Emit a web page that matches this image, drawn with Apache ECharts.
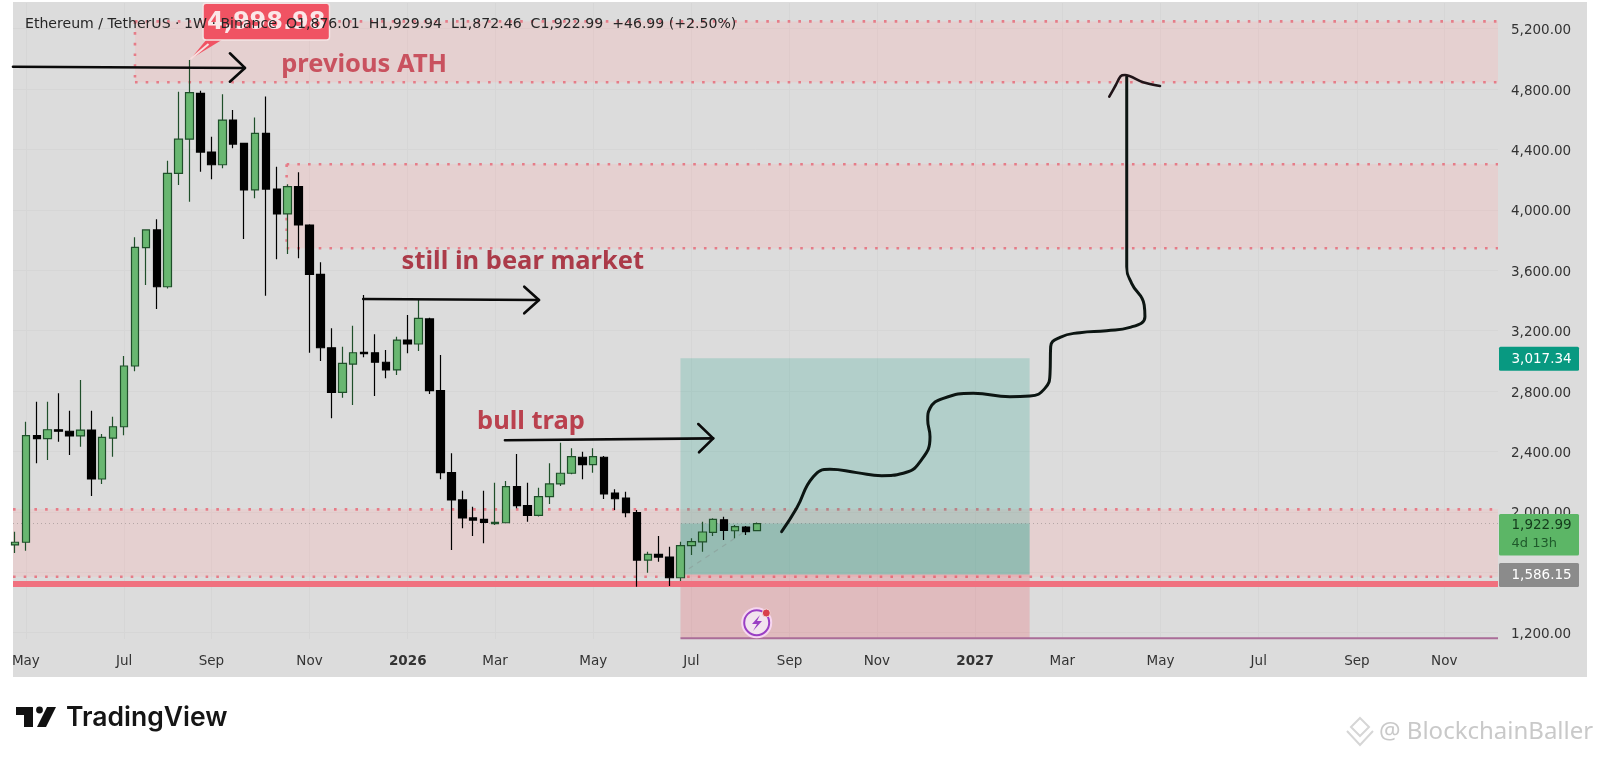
<!DOCTYPE html>
<html><head><meta charset="utf-8">
<style>html,body{margin:0;padding:0;background:#fff}#c{width:1600px;height:757px}</style>
<script src="https://cdn.jsdelivr.net/npm/echarts@6/dist/echarts.min.js"></script>
</head><body><div id="c"></div>
<script>
// ---- weekly candles (ETH/USDT)
const candleOpen=[1781,1799,2505,2485,2544,2534,2503,2542,2218,2489,2564,2966,3750,3867,3491,4242,4468,4772,4383,4299,4595,4441,4132,4507,4138,3973,4154,3900,3573,3087,2792,2979,3057,3054,2991,2940,3138,3112,3278,2803,2260,2079,1960,1951,1922,1928,2167,2041,1977,2101,2185,2256,2362,2313,2362,2125,2092,1995,1681,1719,1701,1564,1776,1801,1865,1948,1875,1900,1876.01];
const candleClose=[1799,2505,2485,2544,2534,2503,2542,2218,2494,2564,2966,3752,3867,3491,4242,4468,4776,4383,4299,4595,4436,4132,4507,4138,3973,4154,3900,3573,3087,2792,2984,3054,3048,2991,2940,3138,3112,3282,2803,2260,2079,1960,1946,1931,1931,2167,2041,1977,2101,2185,2256,2366,2313,2366,2119,2087,1995,1681,1719,1701,1564,1776,1803,1867,1951,1878,1902,1869,1922.99];
const candleLow=[1728,1743,2322,2344,2465,2377,2432,2105,2185,2366,2507,2931,3503,3344,3480,4165,4054,4253,4203,4275,4408,3807,4077,3432,3673,3708,3679,3054,2999,2620,2756,2708,3024,2768,2885,2907,3050,3066,2781,2216,1748,1891,1840,1792,1913,1924,2024,1935,1970,2052,2172,2250,2216,2260,2085,2013,1964,1505,1597,1670,1509,1542,1715,1736,1840,1814,1825,1847,1872.46];
const candleHigh=[1869,2597,2730,2730,2785,2670,2873,2670,2516,2630,3032,3819,3870,3938,4326,4783,4993,4789,4485,4766,4662,4445,4611,4750,4286,4170,4249,3905,3653,3216,3094,3233,3436,3176,3072,3160,3304,3403,3285,3039,2388,2140,2034,2140,2193,2205,2383,2193,2160,2322,2458,2421,2399,2421,2370,2150,2134,2013,1736,1840,1770,1803,1825,1935,1958,1968,1913,1907,1929.94];
// ---- axes
const xStart=-0.18, xEnd=135.93, yMin=1158.3, yMax=5370;
const monthWeeks=[1,10,18,27,36,44,53,62,71,79,88,96,105,114,123,131];
const monthLabels=['May','Jul','Sep','Nov','2026','Mar','May','Jul','Sep','Nov','2027','Mar','May','Jul','Sep','Nov'];
const priceTicks=[1200,1600,2000,2400,2800,3200,3600,4000,4400,4800,5200];
// ---- resistance zones
const zoneStart=[11,24.9,xStart];
const zoneTop=[5248,4302,2017];
const zoneBottom=[4845,3746,1571];
// ---- long position tool
const posStart=61, posEnd=93, posTarget=3017.34, posEntry=1586.15, posStop=1163, lastPrice=1922.99;
const supportPrice=1523;
// ---- drawn lines
const ax1=[[xStart,4948],[21.08,4940]], ax1h=[[19.7,5037],[21.08,4940],[19.7,4849]];
const ax2=[[31.92,3410],[48.03,3403]], ax2h=[[46.68,3491],[48.03,3403],[46.68,3315]];
const ax3=[[44.91,2474],[64.0,2487]], ax3h=[[62.63,2582],[64.0,2487],[62.7,2395]];
const pathX=[70.27,71.64,73.17,74.7,77.15,79.44,81.42,82.95,83.87,83.66,83.87,85.09,87.84,91.2,93.03,94.4,94.87,94.93,95.79,97.6,100.06,102.2,103.57,103.5,102.35,101.9,101.9];
const pathY=[1869,2024,2233,2282,2260,2240,2256,2332,2498,2609,2686,2752,2785,2763,2767,2818,2917,3094,3156,3187,3200,3222,3293,3370,3514,3624,4882];
const headX=[100.3,100.9,101.35,101.74,103.4,104.95];
const headY=[4750,4827,4886,4893,4845,4820];
const diagonal=[[61,1586.15],[68,1922.99]];
// ---- texts
const noteText=['previous ATH','still in bear market','bull trap'];
const noteX=[24.4,35.44,42.35];
const noteY=[4962,3657,2597];
const tagValue=[3017.34,1922.99,1586.15];
const tagText=['3,017.34','1,922.99','1,586.15'];
const athIndex=16, athLabel='4,998.98';
const titleText='Ethereum / TetherUS · 1W · Binance  O1,876.01  H1,929.94  L1,872.46  C1,922.99  +46.99 (+2.50%)';

const candleData=candleOpen.map((o,i)=>[i,o,candleClose[i],candleLow[i],candleHigh[i]]);
const lineSeries=(data,width,color,extra)=>Object.assign({type:'line',data,symbol:'none',z:6,silent:true,
  lineStyle:{width,color,cap:'round',join:'round'},animation:false},extra||{});
const labelFont='13.5px "DejaVu Sans"';

const chart=echarts.init(document.getElementById('c'),null,{renderer:'canvas'});
chart.setOption({
  animation:false,
  backgroundColor:'#ffffff',
  grid:{left:13,top:3,width:1485,height:636,containLabel:false},
  xAxis:{type:'value',min:xStart,max:xEnd,
    axisLine:{show:false},
    axisTick:{show:false,customValues:monthWeeks},
    splitLine:{show:true,lineStyle:{color:'#d6d6d6',width:1}},
    axisLabel:{customValues:monthWeeks,margin:15,color:'#333',fontFamily:'DejaVu Sans',fontSize:13.5,
      formatter:v=>{const s=monthLabels[monthWeeks.indexOf(v)];return /^\d/.test(s)?'{b|'+s+'}':s;},
      rich:{b:{fontWeight:'bold',color:'#333',fontFamily:'DejaVu Sans',fontSize:13.5}}}},
  yAxis:{type:'value',position:'right',min:yMin,max:yMax,
    axisLine:{show:false},
    axisTick:{show:false,customValues:priceTicks},
    splitLine:{show:true,lineStyle:{color:'#d6d6d6',width:1}},
    axisLabel:{customValues:priceTicks,margin:13,color:'#333',fontFamily:'DejaVu Sans',fontSize:13.5,
      formatter:v=>'{a|'+v.toLocaleString('en-US',{minimumFractionDigits:2,maximumFractionDigits:2})+'}',
      rich:{a:{color:'#333',fontFamily:'DejaVu Sans',fontSize:13.5,padding:[4,0,0,0]}}}},
  graphic:[
    {type:'rect',z:-10,shape:{x:13,y:2,width:1574,height:675},style:{fill:'#dcdcdc'}},
    {type:'text',z:50,x:25,y:24,style:{text:titleText,fill:'#262626',font:'14.1px "DejaVu Sans"',textVerticalAlign:'middle'}},
    // TradingView logo
    {type:'polygon',z:50,shape:{points:[[16,707],[33,707],[33,727],[24,727],[24,715],[16,715]]},style:{fill:'#111'}},
    {type:'circle',z:50,shape:{cx:39.5,cy:710,r:3.4},style:{fill:'#111'}},
    {type:'polygon',z:50,shape:{points:[[37,727],[47,707],[56,707],[46,727]]},style:{fill:'#111'}},
    {type:'text',z:50,x:66,y:718,style:{text:'TradingView',fill:'#151515',font:'600 26.5px Inter',textVerticalAlign:'middle'}},
    // watermark
    {type:'polygon',z:50,shape:{points:[[1360,718],[1369,727],[1360,736],[1351,727]]},style:{fill:'none',stroke:'#d6d6d6',lineWidth:2}},
    {type:'polyline',z:50,shape:{points:[[1347,731],[1360,745],[1373,731]]},style:{fill:'none',stroke:'#d6d6d6',lineWidth:2}},
    {type:'text',z:50,x:1379,y:732,style:{text:'@ BlockchainBaller',fill:'#c9c9c9',font:'24px "Noto Sans"',textVerticalAlign:'middle'}},
    // bolt icon
    {type:'circle',z:50,shape:{cx:756.7,cy:622.7,r:14.5},style:{fill:'#f4e6f4',stroke:'#f7d6f0',lineWidth:2}},
    {type:'circle',z:50,shape:{cx:756.7,cy:622.7,r:12.5},style:{fill:'#f2e4ee',stroke:'#9a3fc4',lineWidth:2}},
    {type:'polygon',z:50,shape:{points:[[760,615],[752,624],[757,624],[753,631],[762,621],[757,621]]},style:{fill:'#9a3fc4'}},
    {type:'circle',z:51,shape:{cx:766.3,cy:613,r:4},style:{fill:'#d8404a',stroke:'#f0d8d8',lineWidth:1}}
  ],
  series:[
    // zones
    {type:'custom',z:1,silent:true,clip:true,data:zoneTop.map((t,i)=>[zoneStart[i],t,zoneBottom[i]]),renderItem:(p,api)=>{
      const i=p.dataIndex,a=api.coord([api.value(0),api.value(1)]),b=api.coord([xEnd,api.value(2)]);
      const dot={stroke:'#e67c88',lineWidth:2.6,lineDash:[2.6,8.1],fill:null};
      const L=(x1,y1,x2,y2)=>({type:'line',shape:{x1,y1,x2,y2},style:dot});
      const ch=[{type:'rect',shape:{x:a[0],y:a[1],width:b[0]-a[0],height:b[1]-a[1]},style:{fill:'rgba(255,172,172,0.25)'}},
        L(a[0],a[1],b[0],a[1]),L(a[0],b[1],b[0],b[1])];
      if(i<2) ch.push(L(a[0],a[1],a[0],b[1]));
      return {type:'group',children:ch};
    }},
    // position tool
    {type:'custom',z:2,silent:true,clip:true,data:[[posStart]],renderItem:(p,api)=>{
      const a=api.coord([posStart,posTarget]),b=api.coord([posEnd,lastPrice]),c=api.coord([posEnd,posEntry]),d=api.coord([posEnd,posStop]);
      const R=(x0,y0,x1,y1,fill)=>({type:'rect',shape:{x:x0,y:y0,width:x1-x0,height:y1-y0},style:{fill}});
      return {type:'group',children:[
        R(a[0],a[1],c[0],c[1],'rgba(8,153,129,0.2)'),
        R(a[0],b[1],c[0],c[1],'rgba(8,153,129,0.2)'),
        R(a[0],c[1],d[0],d[1],'rgba(242,54,69,0.2)')]};
    }},
    lineSeries([[xStart,lastPrice],[xEnd,lastPrice]],1,'rgba(90,90,90,0.35)',{z:2,lineStyle:{width:1,color:'rgba(90,90,90,0.35)',type:[1,3]}}),
    lineSeries([[xStart,supportPrice],[xEnd,supportPrice]],6,'#f0717f',{z:2,lineStyle:{width:6,color:'#f0717f',cap:'butt'}}),
    lineSeries([[posStart,posStop],[xEnd,posStop]],2,'#aa6d98',{z:2,lineStyle:{width:2,color:'#aa6d98',cap:'butt'}}),
    lineSeries(diagonal,1.2,'#8fa8a2',{z:2,lineStyle:{width:1.2,color:'#8fa8a2',type:[5,5]}}),
    // candles
    {type:'candlestick',z:3,silent:true,barWidth:8,data:candleData,encode:{x:0,y:[1,2,3,4]},
      itemStyle:{color:'#69b771',color0:'#000000',borderColor:'#1f4f2a',borderColor0:'#000000',borderWidth:1.2}},
    // hand drawn arrows
    lineSeries(ax1,2.6,'#0a0a0a'),lineSeries(ax1h,2.6,'#0a0a0a'),
    lineSeries(ax2,2.6,'#0a0a0a'),lineSeries(ax2h,2.6,'#0a0a0a'),
    lineSeries(ax3,2.6,'#0a0a0a'),lineSeries(ax3h,2.6,'#0a0a0a'),
    lineSeries(pathX.map((x,i)=>[x,pathY[i]]),3,'#0c1512',{smooth:0.5}),
    lineSeries(headX.map((x,i)=>[x,headY[i]]),2.6,'#201418',{smooth:0.3}),
    // notes
    {type:'custom',z:7,silent:true,clip:false,data:noteText.map((t,i)=>[noteX[i],noteY[i]]),renderItem:(p,api)=>{
      const c=api.coord([api.value(0),api.value(1)]);
      const fills=['#c9525f','#ab3b49','#ba414e'];
      return {type:'text',style:{text:noteText[p.dataIndex],x:c[0],y:c[1],fill:fills[p.dataIndex],font:'bold 25.5px "Noto Sans"',textAlign:'left',textVerticalAlign:'middle'}};
    }},
    // ATH tag
    {type:'custom',z:8,silent:true,clip:false,data:[[athIndex,candleHigh[athIndex]]],renderItem:(p,api)=>{
      const c=api.coord([api.value(0),api.value(1)]);
      const x0=c[0]+13.5,y0=c[1]-56.7,w=126.5,h=36.7;
      return {type:'group',children:[
        {type:'polygon',shape:{points:[[c[0]+1,c[1]-1],[c[0]+17,c[1]-20.5],[c[0]+33,c[1]-20.5]]},style:{fill:'#f05363'}},
        {type:'line',shape:{x1:c[0]+1,y1:c[1]-1,x2:c[0]+19,y2:c[1]-16},style:{stroke:'#f6dede',lineWidth:2}},
        {type:'rect',shape:{x:x0,y:y0,width:w,height:h,r:3},style:{fill:'#f05363',stroke:'#f3e3e3',lineWidth:1.5}},
        {type:'text',style:{text:athLabel,x:x0+w/2,y:y0+h/2+1,fill:'#fbe6e8',font:'bold 24px "DejaVu Sans"',textAlign:'center',textVerticalAlign:'middle'}}
      ]};
    }},
    // price tags
    {type:'custom',z:9,silent:true,clip:false,data:tagValue.map(v=>[xEnd,v]),renderItem:(p,api)=>{
      const i=p.dataIndex,c=api.coord([api.value(0),api.value(1)]),x=c[0]+1,w=80;
      const fills=['#089981','#5cb666','#8b8b8b'],texts=['#ffffff','#143b1c','#ffffff'];
      const top=i===1?c[1]-9.5:c[1]-11.5,h=i===1?41.5:24;
      const ch=[{type:'rect',shape:{x,y:top,width:w,height:h,r:1.5},style:{fill:fills[i]}},
        {type:'text',style:{text:tagText[i],x:x+12.5,y:c[1]+1.5,fill:texts[i],font:labelFont,textAlign:'left',textVerticalAlign:'middle'}}];
      if(i===1) ch.push({type:'text',style:{text:'4d 13h',x:x+12.5,y:c[1]+20,fill:'#1f5a2b',font:'13px "DejaVu Sans"',textAlign:'left',textVerticalAlign:'middle'}});
      return {type:'group',children:ch};
    }}
  ]
});
</script></body></html>
